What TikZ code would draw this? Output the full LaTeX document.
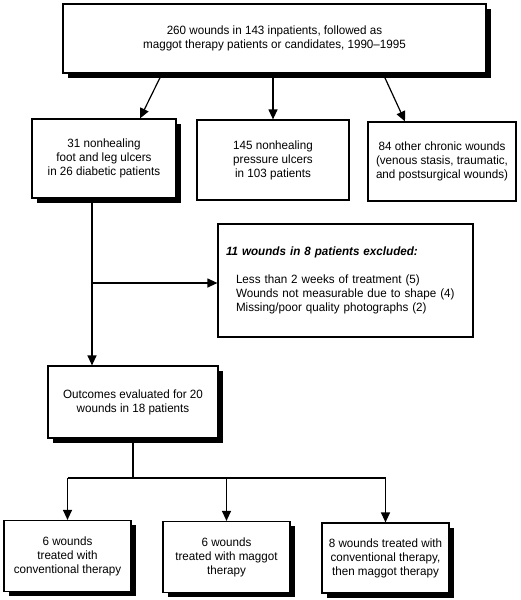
\documentclass[tikz,border=0pt]{standalone}
\usepackage{fontspec}
\setmainfont{Liberation Sans}[FakeStretch=0.97]
\usetikzlibrary{arrows.meta,shadows}
\begin{document}
\begin{tikzpicture}[x=1pt,y=-1pt,
  box/.style={draw=black,line width=1.2pt,fill=white,inner sep=0pt,align=center,
    font=\fontsize{12}{14}\selectfont},
  shbox/.style={box,drop shadow={shadow xshift=4.5pt,shadow yshift=-4.5pt,fill=black,opacity=1}},
  arr/.style={line width=1.2pt,-{Triangle[length=10pt,width=9pt]}},
  ln/.style={line width=1.2pt}]
\useasboundingbox (0,0) rectangle (520,600);
\node[shbox,minimum width=423pt,minimum height=69pt] (top) at (274.5,38.5)
  {260 wounds in 143 inpatients, followed as\\maggot therapy patients or candidates, 1990--1995};
\node[shbox,minimum width=144pt,minimum height=79pt] (A) at (104,158.5)
  {31 nonhealing\\foot and leg ulcers\\in 26 diabetic patients};
\node[box,minimum width=152pt,minimum height=80pt] (B) at (273,160)
  {145 nonhealing\\pressure ulcers\\in 103 patients};
\node[box,minimum width=148pt,minimum height=79pt] (C) at (442,161.5)
  {84 other chronic wounds\\(venous stasis, traumatic,\\and postsurgical wounds)};
\node[box,minimum height=113pt,text width=239pt,inner xsep=8pt,align=left] (X) at (345.5,280.5)
  {\textbf{\textit{11 wounds in 8 patients excluded:}}\\[14pt]
   \hspace*{10pt}Less than 2 weeks of treatment (5)\\
   \hspace*{10pt}Wounds not measurable due to shape (4)\\
   \hspace*{10pt}Missing/poor quality photographs (2)};
\node[shbox,minimum width=170pt,minimum height=72pt] (O) at (133,402)
  {Outcomes evaluated for 20\\wounds in 18 patients};
\node[shbox,minimum width=127pt,minimum height=71pt] (D) at (67.5,556)
  {6 wounds\\treated with\\conventional therapy};
\node[shbox,minimum width=127pt,minimum height=71pt] (E) at (226.5,557)
  {6 wounds\\treated with maggot\\therapy};
\node[shbox,minimum width=127pt,minimum height=70pt] (F) at (385.5,558)
  {8 wounds treated with\\conventional therapy,\\then maggot therapy};
% top arrows
\draw[arr] ([xshift=-112.5pt]top.south) -- ([xshift=36pt]A.north);
\draw[arr] (top.south -| B.north) -- (B.north);
\draw[arr] ([xshift=108.5pt]top.south) -- ([xshift=-37pt]C.north);
% diabetic branch
\draw[arr] ([xshift=-12pt]A.south) -- ([xshift=-41pt]O.north);
\coordinate (br) at (92,283);
\draw[arr] (br) -- (br -| X.west);
% bottom tree
\coordinate (hb) at (132,478);
\draw[ln] (O.south) -- (O.south |- hb);
\draw[ln] (D.north |- hb) -- (F.north |- hb);
\draw[arr] (D.north |- hb) -- (D.north);
\draw[arr] (E.north |- hb) -- (E.north);
\draw[arr] (F.north |- hb) -- (F.north);
\end{tikzpicture}
\end{document}
